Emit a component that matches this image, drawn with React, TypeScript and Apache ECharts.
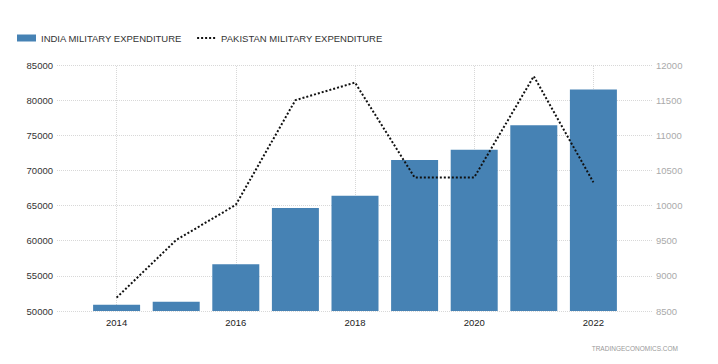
import React, { useEffect, useRef } from "react";
import * as echarts from "echarts";

const years = [2014, 2015, 2016, 2017, 2018, 2019, 2020, 2021, 2022];
const india = [50900, 51300, 56650, 64650, 66400, 71500, 72940, 76420, 81520];
const pakistan = [8690, 9510, 10010, 11500, 11750, 10400, 10400, 11840, 10330];
const gridYears = [2014, 2016, 2018, 2020, 2022];
const leftTicks = [50000, 85000, 5000];
const rightTicks = [8500, 12000, 500];

const FONT = "'Liberation Sans', Arial, sans-serif";

export default function App() {
  const ref = useRef<HTMLDivElement>(null);
  useEffect(() => {
    document.body.style.margin = "0";
    const chart = echarts.init(ref.current!, null, { renderer: "svg" });
    chart.setOption({
      animation: false,
      backgroundColor: "#ffffff",
      textStyle: { fontFamily: FONT },
      legend: {
        left: 12,
        top: 28,
        itemWidth: 19,
        itemHeight: 7,
        itemGap: 14,
        textStyle: { fontFamily: FONT, fontSize: 9.5, color: "#333" },
        data: [
          { name: "INDIA MILITARY EXPENDITURE", icon: "rect" },
          { name: "PAKISTAN MILITARY EXPENDITURE", itemStyle: { opacity: 0 } },
        ],
      },
      grid: { left: 57, right: 65, top: 65, bottom: 53, containLabel: false },
      xAxis: {
        type: "value",
        min: 2013,
        max: 2023,
        interval: 1,
        axisLine: { show: false },
        axisTick: { show: false },
        splitLine: { show: false },
        axisLabel: {
          fontFamily: FONT,
          fontSize: 9.5,
          color: "#222",
          margin: 6,
          formatter: (v: number) => (gridYears.includes(v) ? String(v) : ""),
        },
      },
      yAxis: [
        {
          type: "value",
          min: leftTicks[0],
          max: leftTicks[1],
          interval: leftTicks[2],
          axisLine: { show: false },
          axisTick: { show: false },
          axisLabel: {
            fontFamily: FONT,
            fontSize: 9.5,
            color: "#333",
            margin: 4,
            formatter: (v: number) => String(v),
          },
          splitLine: { lineStyle: { color: "#d8d8d8", type: "dotted", width: 1 } },
        },
        {
          type: "value",
          min: rightTicks[0],
          max: rightTicks[1],
          interval: rightTicks[2],
          axisLine: { show: false },
          axisTick: { show: false },
          axisLabel: {
            fontFamily: FONT,
            fontSize: 9.5,
            color: "#aaa",
            margin: 3,
            formatter: (v: number) => String(v),
          },
          splitLine: { show: false },
        },
      ],
      series: [
        {
          name: "grid",
          type: "line",
          z: 1,
          data: [],
          silent: true,
          markLine: {
            z: 1,
            silent: true,
            symbol: "none",
            label: { show: false },
            lineStyle: { color: "#d8d8d8", type: "dotted", width: 1 },
            data: gridYears.map((y) => ({ xAxis: y })),
          },
        },
        {
          name: "INDIA MILITARY EXPENDITURE",
          type: "bar",
          z: 2,
          barWidth: 47,
          yAxisIndex: 0,
          itemStyle: { color: "#4682b4" },
          data: years.map((y, i) => [y, india[i]]),
        },
        {
          name: "PAKISTAN MILITARY EXPENDITURE",
          type: "line",
          z: 3,
          yAxisIndex: 1,
          showSymbol: false,
          symbol: "none",
          lineStyle: { color: "#111", width: 2, type: [2, 2] },
          itemStyle: { color: "#111" },
          data: years.map((y, i) => [y, pakistan[i]]),
        },
      ],
      graphic: [
        {
          type: "text",
          right: 40,
          top: 345,
          style: { text: "TRADINGECONOMICS.COM", fontFamily: FONT, fontSize: 6.5, fill: "#999" },
        },
      ],
    });
    return () => chart.dispose();
  }, []);
  return <div ref={ref} style={{ position: "absolute", left: 0, top: 0, width: 718, height: 364 }} />;
}
